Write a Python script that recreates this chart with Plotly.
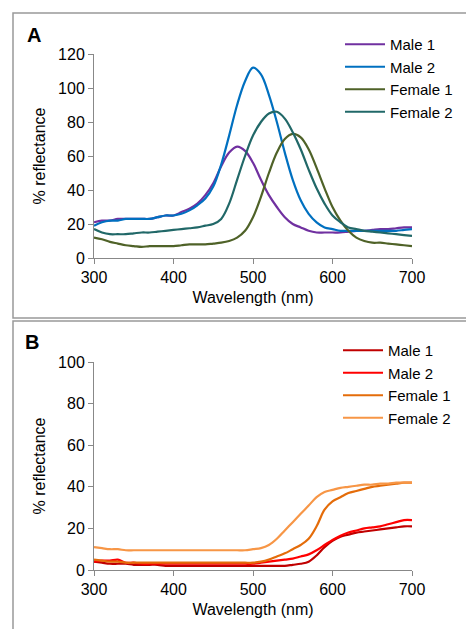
import plotly.graph_objects as go

wl = list(range(300, 701, 10))

# panel A
a_male1 = [21, 22, 22, 23, 23, 23, 23, 23, 24, 25, 25, 27, 29, 32, 37, 44, 54, 62, 65.5, 63, 56,
           46, 37, 30, 24, 20, 18, 16, 15, 15, 15, 15, 15.5, 16, 16, 16.5, 17, 17, 17.5, 18, 18]
a_male2 = [19, 21, 22, 22, 23, 23, 23, 23, 24, 25, 25, 26, 28, 31, 35, 42, 55, 72, 90, 104, 112,
           108, 96, 80, 62, 46, 34, 26, 21, 18, 17, 16, 16, 16, 16, 16, 16, 16, 16, 16.5, 17]
a_female1 = [12, 11, 9.5, 8.5, 7.5, 7, 6.5, 7, 7, 7, 7, 7.5, 8, 8, 8, 8.5, 9, 10, 12, 16, 24,
             36, 50, 62, 70, 73, 71, 64, 53, 41, 30, 22, 16, 12, 10, 9, 9, 8.5, 8, 7.5, 7]
a_female2 = [17, 15, 14, 14, 14, 14.5, 15, 15, 15.5, 16, 16.5, 17, 17.5, 18, 19, 20, 23, 32, 46, 60, 72,
             80, 85, 86, 82, 74, 64, 52, 41, 32, 25, 21, 18, 17, 16, 15.5, 15, 14.5, 14, 13.5, 13]

# panel B
b_male1 = [4, 3.5, 3, 3, 3, 2.5, 2.5, 2.5, 2.5, 2, 2, 2, 2, 2, 2, 2, 2, 2, 2, 2, 2,
           2, 2, 2, 2, 2.5, 3, 4, 7, 11, 14, 16, 17, 18, 18.5, 19, 19.5, 20, 20.5, 21, 21]
b_male2 = [4, 4.5, 4.5, 5, 3.5, 3.5, 3, 3, 3, 3, 3, 3, 3, 3, 3, 3, 3, 3, 3, 3, 3,
           3.5, 4, 4.5, 5, 5.5, 6.5, 7.5, 9.5, 12, 14.5, 16.5, 18, 19, 20, 20.5, 21, 22, 23, 24, 24]
b_female1 = [5, 4.5, 4, 4, 3.5, 3.5, 3.5, 3.5, 3.5, 3.5, 3.5, 3.5, 3.5, 3.5, 3.5, 3.5, 3.5, 3.5, 3.5, 3.5, 3.5,
             4, 5, 6.5, 8, 10, 12, 15, 21, 29, 33, 35, 37, 38, 39, 40, 40.5, 41, 41.5, 42, 42]
b_female2 = [11, 10.5, 10, 10, 9.5, 9.5, 9.5, 9.5, 9.5, 9.5, 9.5, 9.5, 9.5, 9.5, 9.5, 9.5, 9.5, 9.5, 9.5, 9.5, 10,
             10.5, 12, 15, 19, 23, 27, 31, 35, 37.5, 38.5, 39.5, 40, 40.5, 41, 41, 41.5, 41.5, 42, 42, 42]

names = ["Male 1", "Male 2", "Female 1", "Female 2"]
colors_a = ["#7030A0", "#0070C0", "#4F6228", "#216868"]
colors_b = ["#C00000", "#FF0000", "#E46C0A", "#F79646"]

W, H = 474, 629
fig = go.Figure()
for n, c, y in zip(names, colors_a, [a_male1, a_male2, a_female1, a_female2]):
    fig.add_trace(go.Scatter(x=wl, y=y, name=n, mode="lines", line=dict(color=c, width=2.2, shape="spline"),
                             xaxis="x", yaxis="y", legend="legend"))
for n, c, y in zip(names, colors_b, [b_male1, b_male2, b_female1, b_female2]):
    fig.add_trace(go.Scatter(x=wl, y=y, name=n, mode="lines", line=dict(color=c, width=2.2, shape="spline"),
                             xaxis="x2", yaxis="y2", legend="legend2"))

ax = dict(showgrid=False, showline=True, linecolor="#888", ticks="outside", tickcolor="#888",
          ticklen=5, tickfont=dict(size=16, color="black"), zeroline=False, automargin=False)
fig.update_layout(
    width=W, height=H, margin=dict(l=0, r=0, t=0, b=0),
    plot_bgcolor="white", paper_bgcolor="white",
    font=dict(family="Liberation Sans", color="black"),
    xaxis=dict(ax, domain=[86/W, 404/W], range=[300, 700], dtick=100, anchor="y",
               title=dict(text="Wavelength (nm)", font=dict(size=16), standoff=6)),
    yaxis=dict(ax, domain=[1-250/H, 1-46/H], range=[0, 120], dtick=20, anchor="x",
               title=dict(text="% reflectance", font=dict(size=16), standoff=8)),
    xaxis2=dict(ax, domain=[86/W, 404/W], range=[300, 700], dtick=100, anchor="y2",
                title=dict(text="Wavelength (nm)", font=dict(size=16), standoff=6)),
    yaxis2=dict(ax, domain=[1-562/H, 1-354/H], range=[0, 100], dtick=20, anchor="x2",
                title=dict(text="% reflectance", font=dict(size=16), standoff=8)),
    legend=dict(x=332/W, y=1-20/H, xanchor="left", yanchor="top", font=dict(size=15),
                itemwidth=40, tracegroupgap=0, bgcolor="rgba(0,0,0,0)"),
    legend2=dict(x=330/W, y=1-326/H, xanchor="left", yanchor="top", font=dict(size=15),
                 itemwidth=40, tracegroupgap=0, bgcolor="rgba(0,0,0,0)"),
    shapes=[
        dict(type="rect", xref="paper", yref="paper", x0=5/W, x1=469/W, y0=1-310/H, y1=1-5/H,
             line=dict(color="#999", width=1.5)),
        dict(type="rect", xref="paper", yref="paper", x0=5/W, x1=469/W, y0=1-623/H, y1=1-313/H,
             line=dict(color="#999", width=1.5)),
    ],
    annotations=[
        dict(text="<b>A</b>", x=17/W, y=1-27/H, xref="paper", yref="paper", showarrow=False,
             xanchor="left", yanchor="middle", font=dict(size=20)),
        dict(text="<b>B</b>", x=15/W, y=1-334/H, xref="paper", yref="paper", showarrow=False,
             xanchor="left", yanchor="middle", font=dict(size=20)),
    ],
)
fig.write_html("out.html")
